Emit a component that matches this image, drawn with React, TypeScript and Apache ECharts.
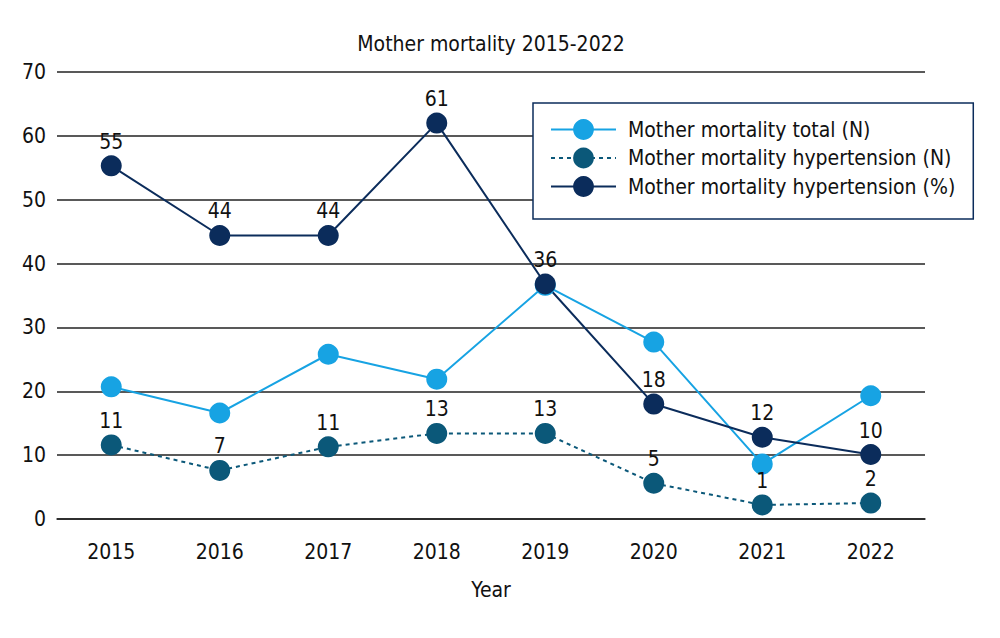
import React, { useEffect, useRef } from "react";
import * as echarts from "echarts";

const years = ["2015", "2016", "2017", "2018", "2019", "2020", "2021", "2022"];
const totalN = [20.7, 16.6, 25.8, 21.9, 36.6, 27.7, 8.6, 19.3];
const hypN = [11.6, 7.6, 11.3, 13.4, 13.4, 5.6, 2.2, 2.5];
const hypNLabels = [11, 7, 11, 13, 13, 5, 1, 2];
const hypPct = [55.3, 44.4, 44.4, 62.0, 36.8, 18.0, 12.8, 10.1];
const hypPctLabels = [55, 44, 44, 61, 36, 18, 12, 10];
const yTicks = [0, 10, 20, 30, 40, 50, 60, 70];

const FONT = "'Liberation Sans Narrow', 'DejaVu Sans Condensed', 'Roboto Condensed', 'Liberation Sans', sans-serif";

export default function App() {
  const ref = useRef<HTMLDivElement>(null);
  useEffect(() => {
    document.body.style.margin = "0";
    const chart = echarts.init(ref.current!, undefined, { renderer: "svg" });
    const lbl = (arr: number[]) => ({
      show: true,
      position: "top" as const,
      distance: 3,
      color: "#111",
      fontSize: 21,
      fontFamily: FONT,
      formatter: (p: any) => String(arr[p.dataIndex]),
    });
    chart.setOption({
      animation: false,
      textStyle: { fontFamily: FONT },
      title: {
        text: "Mother mortality 2015-2022",
        left: 491,
        textAlign: "center",
        top: 33,
        padding: 0,
        textStyle: { fontSize: 21, fontWeight: "normal", color: "#111", fontFamily: FONT },
      },
      grid: { left: 57, right: 75, top: 72, bottom: 119 },
      legend: {
        left: 533,
        top: 103,
        orient: "vertical",
        itemWidth: 65,
        itemHeight: 26,
        itemGap: 7.5,
        padding: [16, 18, 22, 17],
        borderColor: "#0b2c5b",
        borderWidth: 1.5,
        backgroundColor: "#fff",
        textStyle: { fontSize: 21, color: "#111", fontFamily: FONT, padding: [0, 0, 0, 7] },
        data: [
          "Mother mortality total (N)",
          "Mother mortality hypertension (N)",
          "Mother mortality hypertension (%)",
        ],
      },
      xAxis: {
        type: "category",
        data: years,
        boundaryGap: true,
        axisLine: { show: true, lineStyle: { color: "#222", width: 1.5 } },
        axisTick: { show: false },
        axisLabel: { fontSize: 21, color: "#111", margin: 22, fontFamily: FONT },
        name: "Year",
        nameLocation: "middle",
        nameGap: 60,
        nameTextStyle: { fontSize: 21, color: "#111", fontFamily: FONT },
      },
      yAxis: {
        type: "value",
        min: yTicks[0],
        max: yTicks[yTicks.length - 1],
        interval: 10,
        axisLine: { show: false },
        axisTick: { show: false },
        axisLabel: { fontSize: 21, color: "#111", margin: 11, fontFamily: FONT },
        splitLine: { show: true, lineStyle: { color: "#222", width: 1.5 } },
      },
      series: [
        {
          name: "Mother mortality total (N)",
          type: "line",
          data: totalN,
          symbol: "circle",
          symbolSize: 21,
          itemStyle: { color: "#17a3e3" },
          lineStyle: { color: "#17a3e3", width: 2 },
        },
        {
          name: "Mother mortality hypertension (N)",
          type: "line",
          data: hypN,
          symbol: "circle",
          symbolSize: 21,
          itemStyle: { color: "#0b5879" },
          lineStyle: { color: "#0b5879", width: 2, type: [4, 4] },
          label: lbl(hypNLabels),
        },
        {
          name: "Mother mortality hypertension (%)",
          type: "line",
          data: hypPct,
          symbol: "circle",
          symbolSize: 21,
          itemStyle: { color: "#0b2c5b" },
          lineStyle: { color: "#0b2c5b", width: 2 },
          label: lbl(hypPctLabels),
        },
      ],
    });
    return () => chart.dispose();
  }, []);
  return <div ref={ref} style={{ width: 1000, height: 638 }} />;
}
